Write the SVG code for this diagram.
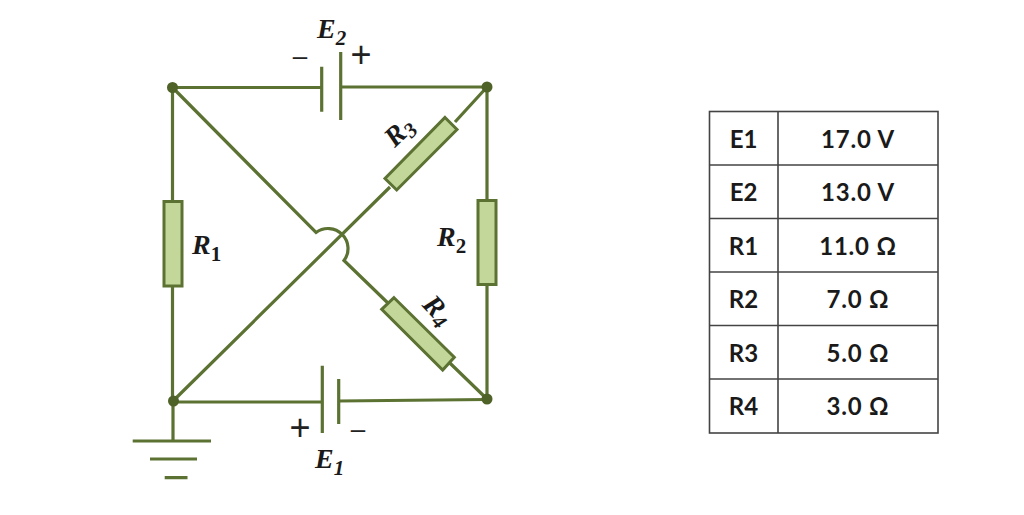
<svg xmlns="http://www.w3.org/2000/svg" width="1024" height="515" viewBox="0 0 1024 515">
<style>
.w{fill:none;stroke:#5c7233;stroke-width:3.2}
.r{fill:#c4d79b;stroke:#5c7233;stroke-width:3}
.d{fill:#4f6228}
.m{font-family:"Liberation Serif",serif;font-weight:bold;font-style:italic;font-size:28px;fill:#1a1a1a}
.u{font-size:21px}
.p{font-family:"Liberation Sans",sans-serif;font-size:36px;fill:#222;text-anchor:middle}
.n{font-family:"Liberation Sans",sans-serif;font-size:26px;fill:#222;text-anchor:middle}
.t{font-family:Lato,"Open Sans",sans-serif;font-weight:bold;font-size:24px;fill:#1a1a1a;text-anchor:middle}
.v{letter-spacing:.8px}
.g{fill:none;stroke:#444;stroke-width:1.6}
</style>
<rect width="1024" height="515" fill="#fff"/>
<g id="connectors">
<path class="w" d="M172.500 87.500H321.700M340.700 87H487"/>
<path class="w" d="M173 402H322.300M338.700 401L487 399.500"/>
<path class="w" d="M172.500 87.500V201M172.500 286V401M487 87V200M487 285V399"/>
<path class="w" d="M172.500 87.500L316 232.500A20 20 0 0 1 344 260.500L487 399"/>
<path class="w" d="M173 401L390 187M455 122L487 87"/>
<path class="w" d="M173 401V441M132.700 441H211M150 459H197M164.700 477.700H187.500"/>
</g>
<g id="E2"><path class="w" d="M321.700 66.700V111.700M340.700 52V120"/>
<text class="m" x="317" y="38">E<tspan class="u" dy="7">2</tspan></text>
<text class="n" x="300" y="65">–</text><text class="p" x="361" y="66.500">+</text></g>
<g id="E1"><path class="w" d="M322.300 365.700V433M338.700 379V424"/>
<text class="m" x="315" y="468">E<tspan class="u" dy="7">1</tspan></text>
<text class="p" x="300" y="439.500">+</text><text class="n" x="358" y="438">–</text></g>
<g id="R1"><rect class="r" x="164" y="201.500" width="18" height="84.500"/>
<text class="m" x="192" y="254">R<tspan class="u" dy="7" font-style="normal">1</tspan></text></g>
<g id="R2"><rect class="r" x="478" y="200.500" width="18" height="84"/>
<text class="m" x="437" y="246">R<tspan class="u" dy="7" font-style="normal">2</tspan></text></g>
<g id="R3"><polygon class="r" points="445,117.500 457,129.500 396.700,190 385,178.500"/>
<text class="m" transform="translate(394.700 148.200) rotate(-44)" x="0" y="0">R<tspan class="u" dy="5">3</tspan></text></g>
<g id="R4"><polygon class="r" points="394,297.700 454.300,357.300 442.700,370 381.700,309.300"/>
<text class="m" transform="translate(421.300 305.500) rotate(47)" x="0" y="0">R<tspan class="u" dy="5">4</tspan></text></g>
<g id="nodes" class="d"><circle cx="172.500" cy="87.500" r="5.500"/><circle cx="487" cy="87" r="5.500"/><circle cx="173.500" cy="401" r="5.500"/><circle cx="487" cy="399" r="5.500"/></g>
<g id="table">
<rect class="g" x="709.500" y="111.500" width="228.500" height="321.500"/>
<path class="g" d="M778 111.500V433M709.500 165H938M709.500 218.500H938M709.500 272H938M709.500 325.500H938M709.500 379H938"/>
<text class="t" x="743.500" y="147.500">E1</text><text class="t v" x="858" y="147.500">17.0 V</text>
<text class="t" x="743.500" y="201">E2</text><text class="t v" x="858" y="201">13.0 V</text>
<text class="t" x="743.500" y="254.500">R1</text><text class="t v" x="858" y="254.500">11.0 Ω</text>
<text class="t" x="743.500" y="308">R2</text><text class="t v" x="858" y="308">7.0 Ω</text>
<text class="t" x="743.500" y="361.500">R3</text><text class="t v" x="858" y="361.500">5.0 Ω</text>
<text class="t" x="743.500" y="415">R4</text><text class="t v" x="858" y="415">3.0 Ω</text>
</g>
</svg>
